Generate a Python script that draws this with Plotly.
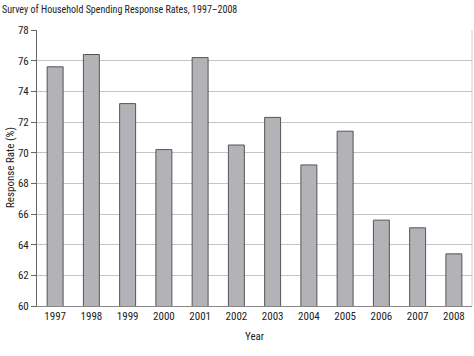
import plotly.graph_objects as go

years = ["1997", "1998", "1999", "2000", "2001", "2002", "2003", "2004", "2005", "2006", "2007", "2008"]
rates = [75.6, 76.4, 73.2, 70.2, 76.2, 70.5, 72.3, 69.2, 71.4, 65.6, 65.1, 63.4]
y_ticks = [60, 62, 64, 66, 68, 70, 72, 74, 76, 78]

font_family = "Roboto Condensed, DejaVu Sans Condensed, sans-serif"
W, H = 474, 356
L, R, T, B = 37, 2, 30, 50

fig = go.Figure(go.Bar(
    x=years, y=rates,
    width=0.44,
    marker=dict(color="#b3b3b7", line=dict(color="#555555", width=1)),
))

fig.update_layout(
    width=W, height=H,
    margin=dict(l=L, r=R, t=T, b=B, autoexpand=False),
    paper_bgcolor="white", plot_bgcolor="white",
    font=dict(family=font_family, size=11, color="#222222"),
    showlegend=False,
)

# title
fig.add_annotation(text="Survey of Household Spending Response Rates, 1997–2008",
                   xref="paper", yref="paper", x=(0 - L) / (W - L - R), y=1 + (T - 10) / (H - T - B),
                   xanchor="left", yanchor="middle", showarrow=False,
                   font=dict(family=font_family, size=10, color="#222222"))
# y-axis title
fig.add_annotation(text="Response Rate (%)", textangle=-90,
                   xref="paper", yref="paper", x=(10 - L) / (W - L - R), y=0.5,
                   xanchor="center", yanchor="middle", showarrow=False,
                   font=dict(family=font_family, size=11, color="#222222"))
# x-axis title
fig.add_annotation(text="Year",
                   xref="paper", yref="paper", x=0.5, y=-(336 - (H - B)) / (H - T - B),
                   xanchor="center", yanchor="middle", showarrow=False,
                   font=dict(family=font_family, size=11, color="#222222"))

fig.update_xaxes(
    showline=True, linecolor="#888888", linewidth=1,
    ticks="", tickfont=dict(size=11), automargin=False,
)
fig.update_yaxes(
    range=[60, 78], tickvals=y_ticks,
    showgrid=True, gridcolor="#c4c4c4", gridwidth=1,
    showline=True, linecolor="#666666", linewidth=1,
    ticks="outside", ticklen=5, tickcolor="#666666",
    tickfont=dict(size=11), automargin=False,
    zeroline=False,
)
fig.add_shape(type="line", xref="paper", yref="paper", x0=1, x1=1, y0=0, y1=1,
              line=dict(color="#cccccc", width=1))

fig.write_html("out.html", config={"displayModeBar": False},
               post_script="document.body.style.margin='0';")
